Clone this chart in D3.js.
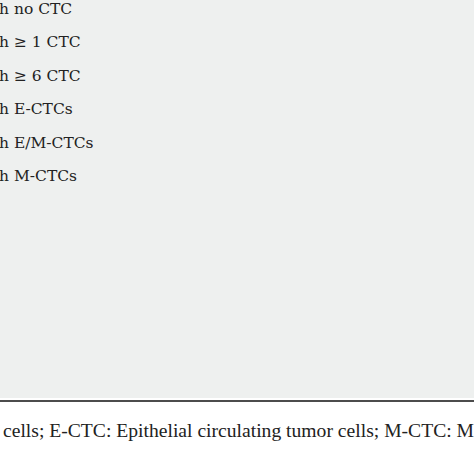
<!DOCTYPE html>
<html><head><meta charset="utf-8">
<script src="https://cdn.jsdelivr.net/npm/d3@7"></script>
<style>body{margin:0;background:#fff}</style></head>
<body><div id="c"></div>
<script>
const rowLabels = ["h no CTC","h \u2265 1 CTC","h \u2265 6 CTC","h E-CTCs","h E/M-CTCs","h M-CTCs"];
const footnote = "cells; E-CTC: Epithelial circulating tumor cells; M-CTC: M";
const W=474,H=474;
const svg=d3.select("#c").append("svg").attr("width",W).attr("height",H);
svg.append("rect").attr("x",0).attr("y",0).attr("width",W).attr("height",398).attr("fill","#eef0ef");
svg.append("line").attr("x1",0).attr("x2",W).attr("y1",401).attr("y2",401).attr("stroke","#111").attr("stroke-width",1.6);
const y=d3.scalePoint().domain(rowLabels).range([14,181]);
svg.selectAll("text.row").data(rowLabels).join("text").attr("class","row")
 .attr("x",-1).attr("y",d=>y(d)).text(d=>d)
 .attr("font-family","'DejaVu Serif',serif").attr("font-size",15.5).attr("fill","#222");
svg.append("text").attr("x",3).attr("y",437).text(footnote)
 .attr("textLength",471).attr("lengthAdjust","spacingAndGlyphs")
 .attr("font-family","'Liberation Serif',serif").attr("font-size",18).attr("fill","#222");
</script></body></html>
